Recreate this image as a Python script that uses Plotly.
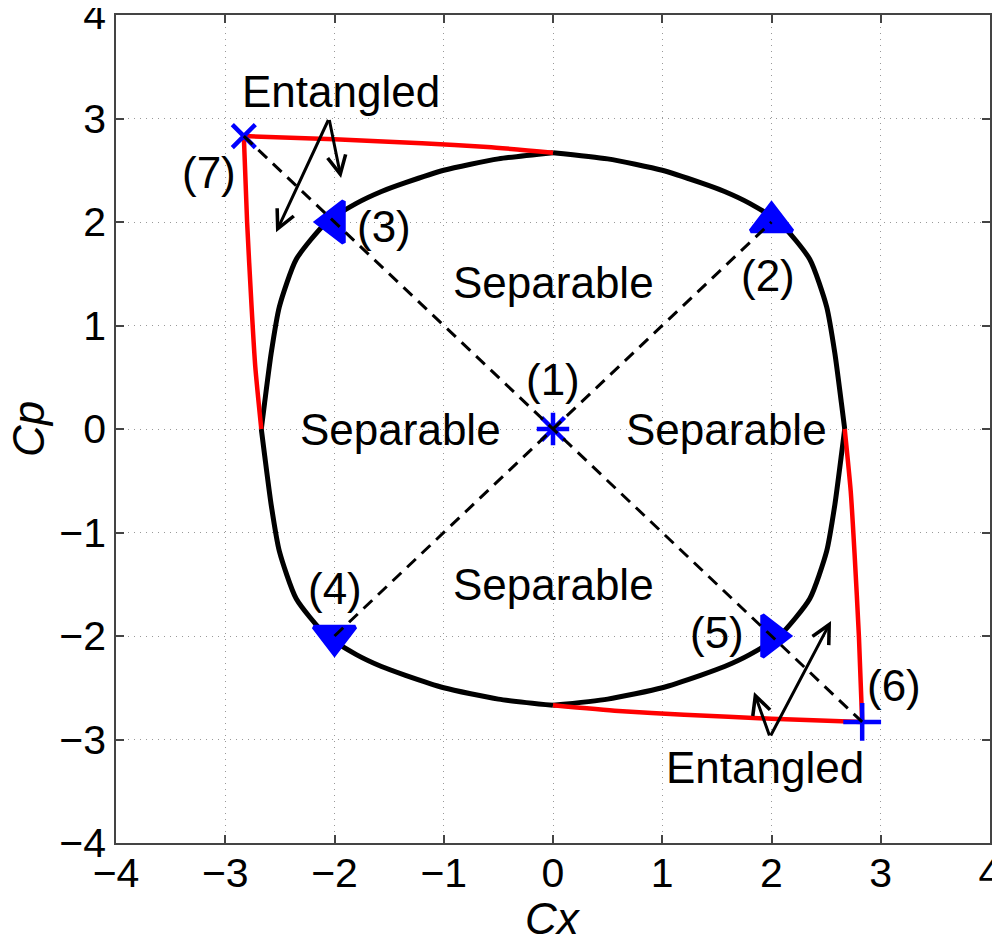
import plotly.graph_objects as go

# Separable region boundary (black), one arc per quadrant
sep_cx = [0, 0.5, 1, 1.35, 1.57, 1.80, 2.08, 2.35, 2.505, 2.58, 2.64, 2.67, None,
          2.67, 2.64, 2.58, 2.505, 2.35, 2.08, 1.80, 1.57, 1.35, 1, 0.5, 0, None,
          0, -0.5, -1, -1.35, -1.57, -1.80, -2.08, -2.35, -2.505, -2.58, -2.64, -2.67, None,
          -2.67, -2.64, -2.58, -2.505, -2.35, -2.08, -1.80, -1.57, -1.35, -1, -0.5, 0]
sep_cp = [2.67, 2.61, 2.50, 2.38, 2.295, 2.18, 1.99, 1.64, 1.18, 0.73, 0.25, 0, None,
          0, -0.25, -0.73, -1.18, -1.64, -1.99, -2.18, -2.295, -2.38, -2.50, -2.61, -2.67, None,
          -2.67, -2.61, -2.50, -2.38, -2.295, -2.18, -1.99, -1.64, -1.18, -0.73, -0.25, 0, None,
          0, 0.25, 0.73, 1.18, 1.64, 1.99, 2.18, 2.295, 2.38, 2.50, 2.61, 2.67]

# Entangled boundary pieces (red)
ent_top_cx = [-2.67, -2.725, -2.76, -2.80, -2.83, None, -2.83, -2.0, -1.2, -0.6, 0]
ent_top_cp = [0, 0.6, 1.2, 2.0, 2.83, None, 2.83, 2.80, 2.76, 2.725, 2.67]
ent_bot_cx = [2.67, 2.725, 2.76, 2.80, 2.83, None, 2.83, 2.0, 1.2, 0.6, 0]
ent_bot_cp = [0, -0.6, -1.2, -2.0, -2.83, None, -2.83, -2.80, -2.76, -2.725, -2.67]

# Dashed diagonals
diag_cx = [-2.83, 2.83, None, -2, 2]
diag_cp = [2.83, -2.83, None, -2, 2]

# Numbered states
pt_cx = [0, 2, -2, -2, 2, 2.83, -2.83]
pt_cp = [0, 2, 2, -2, -2, -2.83, 2.83]
pt_sym = ["asterisk-open", "triangle-up", "triangle-left", "triangle-down",
          "triangle-right", "cross-thin-open", "x-thin-open"]
pt_size = [27, 36, 36, 36, 36, 27, 23]
pt_names = ["(1)", "(2)", "(3)", "(4)", "(5)", "(6)", "(7)"]
lbl_cx = [0, 1.97, -1.55, -2.0, 1.50, 3.12, -3.15]
lbl_cp = [0.48, 1.48, 1.96, -1.54, -1.97, -2.48, 2.48]

# Region labels
reg_text = ["Separable", "Separable", "Separable", "Separable", "Entangled", "Entangled"]
reg_cx = [0, -1.40, 1.59, 0, -1.94, 1.94]
reg_cp = [1.42, 0, 0, -1.50, 3.26, -3.27]

# Arrows: tail -> head
arr_tail_cx = [-2.05, -2.05, 1.986, 1.986]
arr_tail_cp = [3.0, 3.0, -2.976, -2.976]
arr_head_cx = [-2.535, -1.94, 2.545, 1.84]
arr_head_cp = [1.90, 2.425, -1.855, -2.54]

FONT = "Liberation Sans, Arial, Helvetica, sans-serif"

fig = go.Figure()
fig.add_trace(go.Scatter(x=sep_cx, y=sep_cp, mode="lines",
                         line=dict(color="black", width=5, shape="spline", smoothing=0.6)))
fig.add_trace(go.Scatter(x=ent_top_cx, y=ent_top_cp, mode="lines",
                         line=dict(color="red", width=4.5, shape="spline", smoothing=0.6)))
fig.add_trace(go.Scatter(x=ent_bot_cx, y=ent_bot_cp, mode="lines",
                         line=dict(color="red", width=4.5, shape="spline", smoothing=0.6)))
for i in range(len(pt_cx)):
    fig.add_trace(go.Scatter(x=[pt_cx[i]], y=[pt_cp[i]], mode="markers",
                             marker=dict(symbol=pt_sym[i], size=pt_size[i], color="blue",
                                         line=dict(color="blue", width=4.5))))
fig.add_trace(go.Scatter(x=diag_cx, y=diag_cp, mode="lines",
                         line=dict(color="black", width=3, dash="12px,8px")))

for t, x, y in zip(pt_names, lbl_cx, lbl_cp):
    fig.add_annotation(x=x, y=y, text=t, showarrow=False,
                       font=dict(size=44, color="black", family=FONT))
for t, x, y in zip(reg_text, reg_cx, reg_cp):
    fig.add_annotation(x=x, y=y, text=t, showarrow=False,
                       font=dict(size=44, color="black", family=FONT))
for tx, ty, hx, hy in zip(arr_tail_cx, arr_tail_cp, arr_head_cx, arr_head_cp):
    fig.add_annotation(x=hx, y=hy, ax=tx, ay=ty, xref="x", yref="y", axref="x", ayref="y",
                       text="", showarrow=True, arrowhead=5, arrowsize=1.2,
                       arrowwidth=3, arrowcolor="black")

# axis titles
fig.add_annotation(xref="paper", yref="paper", x=0.5, y=0, yanchor="middle", yshift=-75,
                   text="<i>Cx</i>", showarrow=False,
                   font=dict(size=44, color="black", family=FONT))
fig.add_annotation(xref="paper", yref="paper", x=0, y=0.5, xanchor="center", xshift=-88,
                   text="<i>Cp</i>", textangle=-90, showarrow=False,
                   font=dict(size=44, color="black", family=FONT))

axis_style = dict(range=[-4, 4], tickvals=[-4, -3, -2, -1, 0, 1, 2, 3, 4],
                  showgrid=True, gridcolor="#999999", gridwidth=1, griddash="1px,5px",
                  zeroline=False, showline=True, linecolor="#444444", linewidth=1.5,
                  mirror="ticks", ticks="inside", ticklen=8, tickcolor="#444444",
                  tickwidth=1.5, automargin=False, ticklabeloverflow="allow",
                  tickfont=dict(size=41, color="black", family=FONT))
fig.update_xaxes(**axis_style, ticklabelstandoff=-7)
fig.update_yaxes(**axis_style)
# the page body adds an 8px offset, so the figure is a little smaller than the window
fig.update_layout(width=992, height=932, showlegend=False,
                  plot_bgcolor="white", paper_bgcolor="white",
                  margin=dict(l=108, r=10, t=7, b=97))

fig.write_html("out.html")
